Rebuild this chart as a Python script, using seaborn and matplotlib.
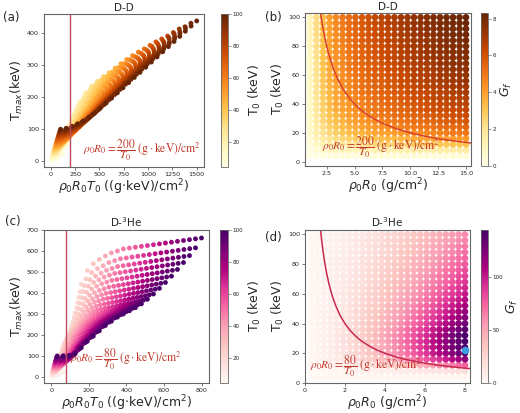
import numpy as np
import pandas as pd
import matplotlib
matplotlib.use("Agg")
import matplotlib.pyplot as plt
import seaborn as sns
from matplotlib.colors import Normalize
from matplotlib.cm import ScalarMappable

sns.set_style("ticks")
plt.rcParams['font.family'] = ['DejaVu Sans']

# ---------------- data ----------------
t0_grid = [4, 8, 12, 16, 20, 24, 28, 32, 36, 40, 44, 48, 52, 56, 60, 64, 68, 72, 76, 80, 84, 88, 92, 96, 100]
rho_dd = [1.0, 1.58, 2.17, 2.75, 3.33, 3.92, 4.5, 5.08, 5.67, 6.25, 6.83, 7.42, 8.0, 8.58, 9.17,
          9.75, 10.33, 10.92, 11.5, 12.08, 12.67, 13.25, 13.83, 14.42, 15.0]
rho_dhe = [0.32, 0.64, 0.96, 1.28, 1.6, 1.92, 2.24, 2.56, 2.88, 3.2, 3.52, 3.84, 4.16, 4.48, 4.8,
           5.12, 5.44, 5.76, 6.08, 6.4, 6.72, 7.04, 7.36, 7.68, 8.0]

# rows: T0 (t0_grid), columns: rho
gf_dd = [
 [0.0,0.1,0.1,0.2,0.2,0.2,0.2,0.2,0.2,0.2,0.3,0.3,0.3,0.3,0.3,0.3,0.3,0.3,0.3,0.3,0.3,0.3,0.3,0.3,0.3],
 [0.2,0.5,0.7,0.8,0.9,1.0,1.1,1.1,1.2,1.2,1.3,1.3,1.3,1.4,1.4,1.4,1.5,1.5,1.5,1.6,1.6,1.6,1.6,1.6,1.7],
 [0.4,0.9,1.3,1.5,1.7,1.9,2.0,2.1,2.2,2.3,2.4,2.5,2.6,2.6,2.7,2.7,2.8,2.9,2.9,2.9,3.0,3.0,3.1,3.1,3.2],
 [0.5,1.2,1.7,2.0,2.3,2.5,2.7,2.8,2.9,3.1,3.2,3.3,3.4,3.4,3.5,3.6,3.7,3.8,3.8,3.9,3.9,4.0,4.1,4.1,4.2],
 [0.6,1.4,2.0,2.4,2.7,3.0,3.2,3.4,3.5,3.7,3.8,3.9,4.0,4.1,4.2,4.3,4.4,4.5,4.6,4.7,4.7,4.8,4.9,4.9,5.0],
 [0.7,1.5,2.2,2.7,3.0,3.3,3.5,3.7,3.9,4.1,4.2,4.3,4.4,4.6,4.7,4.8,4.9,5.0,5.0,5.1,5.2,5.3,5.3,5.4,5.5],
 [0.7,1.6,2.4,2.9,3.2,3.5,3.8,4.0,4.2,4.4,4.5,4.7,4.8,4.9,5.0,5.1,5.2,5.3,5.4,5.5,5.6,5.7,5.8,5.8,5.9],
 [0.8,1.7,2.5,3.1,3.4,3.7,4.0,4.2,4.4,4.6,4.8,4.9,5.0,5.2,5.3,5.4,5.5,5.6,5.7,5.8,5.9,6.0,6.1,6.2,6.2],
 [0.8,1.8,2.6,3.2,3.6,3.9,4.1,4.4,4.6,4.8,5.0,5.1,5.2,5.4,5.5,5.6,5.8,5.9,6.0,6.1,6.2,6.2,6.3,6.4,6.5],
 [0.8,1.9,2.7,3.3,3.7,4.0,4.2,4.5,4.7,4.9,5.1,5.2,5.4,5.5,5.6,5.8,5.9,6.0,6.1,6.2,6.3,6.4,6.5,6.6,6.6],
 [0.8,1.9,2.7,3.3,3.7,4.1,4.4,4.6,4.8,5.0,5.2,5.4,5.5,5.6,5.8,5.9,6.1,6.2,6.3,6.4,6.5,6.5,6.6,6.7,6.8],
 [0.8,2.0,2.8,3.4,3.8,4.2,4.5,4.7,5.0,5.2,5.3,5.5,5.6,5.8,5.9,6.1,6.2,6.3,6.4,6.5,6.6,6.7,6.8,6.9,7.0],
 [0.9,2.0,2.9,3.5,3.9,4.3,4.6,4.9,5.1,5.3,5.5,5.6,5.8,5.9,6.1,6.2,6.4,6.5,6.6,6.7,6.8,6.9,7.0,7.1,7.1],
 [0.9,2.0,2.9,3.6,4.0,4.4,4.6,4.9,5.2,5.4,5.6,5.7,5.9,6.0,6.2,6.3,6.5,6.6,6.7,6.8,6.9,7.0,7.1,7.2,7.3],
 [0.9,2.1,3.0,3.6,4.1,4.4,4.7,5.0,5.2,5.5,5.7,5.8,6.0,6.1,6.3,6.4,6.6,6.7,6.8,6.9,7.0,7.1,7.2,7.3,7.4],
 [0.9,2.1,3.0,3.7,4.1,4.5,4.8,5.1,5.3,5.6,5.8,5.9,6.1,6.2,6.4,6.5,6.7,6.8,6.9,7.0,7.1,7.2,7.3,7.4,7.5],
 [0.9,2.1,3.1,3.7,4.2,4.6,4.9,5.2,5.4,5.7,5.8,6.0,6.2,6.3,6.5,6.6,6.8,6.9,7.0,7.1,7.3,7.4,7.5,7.5,7.6],
 [0.9,2.2,3.1,3.8,4.3,4.6,4.9,5.3,5.5,5.7,5.9,6.1,6.3,6.4,6.6,6.7,6.9,7.0,7.1,7.2,7.3,7.4,7.5,7.6,7.7],
 [0.9,2.2,3.1,3.8,4.3,4.7,5.0,5.3,5.5,5.8,6.0,6.2,6.3,6.5,6.6,6.8,6.9,7.1,7.2,7.3,7.4,7.5,7.6,7.7,7.8],
 [1.0,2.2,3.2,3.9,4.3,4.7,5.0,5.4,5.6,5.8,6.0,6.2,6.4,6.5,6.7,6.9,7.0,7.1,7.3,7.4,7.5,7.6,7.7,7.8,7.9],
 [1.0,2.2,3.2,3.9,4.4,4.8,5.1,5.4,5.7,5.9,6.1,6.3,6.5,6.6,6.8,6.9,7.1,7.2,7.3,7.5,7.6,7.7,7.8,7.9,8.0],
 [1.0,2.3,3.2,4.0,4.4,4.8,5.2,5.5,5.7,6.0,6.2,6.4,6.5,6.7,6.9,7.0,7.2,7.3,7.4,7.5,7.7,7.8,7.9,8.0,8.1],
 [1.0,2.3,3.3,4.0,4.5,4.9,5.2,5.5,5.8,6.0,6.2,6.4,6.6,6.8,6.9,7.1,7.2,7.4,7.5,7.6,7.7,7.8,7.9,8.0,8.1],
 [1.0,2.3,3.3,4.0,4.5,4.9,5.3,5.6,5.8,6.1,6.3,6.5,6.7,6.8,7.0,7.1,7.3,7.4,7.6,7.7,7.8,7.9,8.0,8.1,8.2],
 [1.0,2.3,3.3,4.1,4.6,5.0,5.3,5.6,5.9,6.1,6.4,6.6,6.7,6.9,7.1,7.2,7.4,7.5,7.6,7.8,7.9,8.0,8.1,8.2,8.3],
]

tmax_dd = [
 [4,4,4,4,4,4,5,5,5,5,5,5,5,6,6,6,6,6,6,7,7,7,7,7,7],
 [8,8,8,9,9,10,10,11,12,13,14,14,15,16,17,18,18,19,20,21,22,22,23,24,25],
 [12,12,13,15,16,18,20,22,24,27,29,31,34,36,39,41,43,46,48,51,53,55,58,60,63],
 [16,17,19,22,25,29,34,39,44,50,56,61,67,72,78,84,89,95,100,106,112,117,123,128,134],
 [20,21,24,28,33,38,45,52,60,68,75,83,91,99,107,115,122,130,138,146,154,162,169,177,185],
 [24,26,29,34,39,45,52,60,69,78,87,96,105,114,123,132,141,150,159,168,177,186,195,204,213],
 [28,30,33,38,44,51,59,68,77,87,97,107,116,126,136,146,155,165,175,185,195,204,214,224,234],
 [32,34,38,43,49,56,64,74,84,95,105,115,126,136,146,156,167,177,187,198,208,218,229,239,249],
 [36,38,42,47,54,61,70,80,91,101,112,123,134,145,155,166,177,188,199,209,220,231,242,253,263],
 [40,42,46,52,58,66,75,86,97,108,119,130,142,153,164,175,186,198,209,220,231,242,254,265,276],
 [44,46,51,56,63,71,81,91,103,115,126,138,150,162,173,185,197,208,220,232,243,255,267,278,290],
 [48,50,55,61,68,76,86,97,110,122,134,146,158,170,183,195,207,219,231,243,255,268,280,292,304],
 [52,54,59,65,72,81,91,103,116,128,141,153,166,178,191,204,216,229,241,254,266,279,291,304,317],
 [56,58,63,70,77,86,97,109,122,135,148,160,173,186,199,212,225,238,251,264,277,290,303,316,329],
 [60,62,67,74,82,91,102,114,127,141,154,167,180,194,207,220,233,247,260,273,287,300,313,326,340],
 [64,67,72,78,86,95,106,119,133,146,160,174,187,201,214,228,242,255,269,282,296,310,323,337,350],
 [68,71,76,83,91,100,112,125,138,152,166,180,194,208,222,236,250,264,278,292,306,319,333,347,361],
 [72,75,80,87,95,105,117,130,144,158,173,187,201,215,230,244,258,272,286,301,315,329,343,358,372],
 [76,79,84,91,100,109,121,135,149,164,178,193,207,222,236,251,265,280,294,309,323,338,352,367,381],
 [80,83,88,96,104,114,126,140,155,169,184,199,213,228,243,258,272,287,302,316,331,346,361,375,390],
 [84,87,92,100,108,119,131,145,160,175,190,205,220,235,250,265,280,296,311,326,341,356,371,386,401],
 [88,91,97,104,113,124,136,150,166,181,196,212,227,243,258,273,289,304,319,335,350,365,381,396,412],
 [92,95,101,108,117,128,141,155,171,186,202,217,233,248,264,279,295,310,326,341,357,372,388,403,419],
 [96,99,105,113,122,133,146,160,176,192,208,224,240,255,271,287,303,319,335,350,366,382,398,414,430],
 [100,103,109,117,126,137,150,165,181,197,213,229,245,261,277,293,309,325,341,357,373,389,405,421,437],
]

gf_dhe = [
 [0,0,0,0,0,0,0,0,0,1,1,1,1,1,1,1,1,1,1,1,2,2,2,2,2],
 [0,0,1,1,2,2,3,4,4,5,6,7,8,8,9,10,11,12,13,14,15,17,18,19,20],
 [1,2,3,5,7,9,11,14,16,19,22,25,28,31,35,38,42,46,50,54,58,62,66,71,75],
 [1,3,5,8,11,14,18,22,26,30,35,40,45,50,56,61,67,73,80,86,92,99,106,113,120],
 [1,3,6,9,12,16,20,25,30,35,40,46,52,58,64,71,77,84,91,99,106,114,122,130,138],
 [1,3,6,9,13,17,21,26,31,36,42,48,54,60,66,73,80,87,95,102,110,118,126,135,143],
 [1,3,6,9,13,17,21,26,31,37,42,48,54,61,67,74,81,89,96,104,112,120,128,136,145],
 [1,3,6,9,13,17,21,26,31,36,42,48,54,60,66,73,80,87,95,102,110,118,126,135,143],
 [1,3,6,9,12,16,20,25,30,35,40,46,52,58,64,71,77,84,91,99,106,114,122,130,138],
 [1,3,5,8,12,15,19,24,28,33,38,43,49,54,60,67,73,79,86,93,100,107,115,122,130],
 [1,3,5,8,11,14,18,22,27,31,36,41,46,52,57,63,69,75,82,88,95,102,109,116,123],
 [1,3,5,7,10,14,17,21,25,30,34,39,44,49,54,60,66,71,78,84,90,97,103,110,117],
 [1,3,5,7,10,13,16,20,24,28,32,37,42,47,52,57,62,68,74,79,85,92,98,104,111],
 [1,2,4,7,9,12,16,19,23,27,31,35,39,44,49,54,59,64,70,75,81,87,93,99,105],
 [1,2,4,6,9,12,15,18,22,25,29,33,38,42,47,51,56,61,66,72,77,83,88,94,100],
 [1,2,4,6,8,11,14,17,21,24,28,32,36,40,44,49,53,58,63,68,73,78,84,89,95],
 [1,2,4,6,8,11,13,16,19,23,26,30,34,38,42,46,50,55,60,64,69,74,79,85,90],
 [1,2,4,6,8,10,13,16,19,22,25,29,32,36,40,44,48,53,57,62,66,71,76,81,86],
 [1,2,3,5,7,10,12,15,18,21,24,27,31,34,38,42,46,50,54,59,63,68,72,77,82],
 [1,2,3,5,7,9,12,14,17,20,23,26,29,33,36,40,44,48,52,56,60,64,69,73,78],
 [1,2,3,5,7,9,11,13,16,19,22,25,28,31,34,38,42,45,49,53,57,61,65,70,74],
 [1,2,3,4,6,8,10,13,15,18,20,23,26,29,33,36,39,43,46,50,54,58,62,66,70],
 [1,2,3,4,6,8,10,12,14,17,20,22,25,28,31,34,38,41,44,48,52,55,59,63,67],
 [1,1,3,4,6,8,9,12,14,16,19,21,24,27,30,33,36,39,42,46,49,53,56,60,64],
 [0,1,3,4,5,7,9,11,13,15,18,20,23,26,28,31,34,37,40,44,47,50,54,57,61],
]

tmax_dhe = [
 [4,4,4,4,4,4,4,5,5,5,5,5,5,5,5,5,5,6,6,6,6,6,6,7,7],
 [8,8,8,8,9,10,11,12,12,13,14,14,14,15,15,16,17,18,19,19,20,21,22,23,25],
 [12,12,12,14,18,23,27,31,35,38,42,44,46,49,52,55,59,64,68,73,78,83,88,94,102],
 [16,17,18,22,36,51,64,76,89,99,109,116,124,131,140,151,164,177,191,206,222,239,255,274,297],
 [20,21,22,29,50,73,91,110,129,144,159,170,181,193,206,223,241,262,283,305,329,354,379,406,442],
 [24,25,27,34,58,84,106,127,149,166,183,196,209,222,237,256,278,301,325,351,378,407,435,467,507],
 [28,29,31,39,64,92,114,137,160,178,196,210,224,237,254,274,296,321,347,374,403,433,463,497,539],
 [32,33,35,43,70,98,121,145,168,187,206,220,234,248,265,286,309,335,361,389,419,450,481,516,560],
 [36,37,39,48,74,103,127,151,175,194,214,228,242,257,274,295,319,345,372,401,432,463,495,530,576],
 [40,41,43,52,79,109,133,158,182,202,221,236,251,265,283,305,329,356,383,412,444,476,508,545,591],
 [44,45,47,56,84,113,138,163,188,207,227,242,257,272,290,311,336,363,391,420,452,485,517,554,600],
 [48,49,51,60,88,118,143,168,193,213,233,248,263,278,296,318,343,370,398,428,460,493,526,563,610],
 [52,53,55,64,92,122,147,172,197,217,237,252,267,282,300,322,347,374,402,432,464,497,530,567,614],
 [56,57,59,68,96,126,151,176,201,221,241,256,271,286,304,326,351,378,406,436,468,501,534,571,618],
 [60,61,63,72,100,130,155,180,205,225,245,260,275,290,308,330,355,382,410,440,472,505,538,575,622],
 [64,65,67,76,104,134,159,184,209,229,249,264,279,294,312,334,359,386,414,444,476,509,542,579,626],
 [68,69,71,80,108,138,163,188,213,233,253,268,283,298,316,338,363,390,418,448,480,513,546,583,630],
 [72,73,75,84,112,142,167,192,217,237,257,272,287,302,320,342,367,394,422,452,484,517,550,587,634],
 [76,77,79,88,116,146,171,196,221,241,261,276,291,306,324,346,371,398,426,456,488,521,554,591,638],
 [80,81,83,92,120,150,175,200,225,245,265,280,295,310,328,350,375,402,430,460,492,525,558,595,642],
 [84,85,87,96,124,154,179,204,229,249,269,284,299,314,332,354,379,406,434,464,496,529,562,599,646],
 [88,89,91,100,128,158,183,208,233,253,273,288,303,318,336,358,383,410,438,468,500,533,566,603,650],
 [92,93,95,104,132,162,187,212,237,257,277,292,307,322,340,362,387,414,442,472,504,537,570,607,654],
 [96,97,99,108,136,166,191,216,241,261,281,296,311,326,344,366,391,418,446,476,508,541,574,611,658],
 [100,101,103,112,140,170,195,220,245,265,285,300,315,330,348,370,395,422,450,480,512,545,578,615,662],
]

dd_threshold = 200     # rho0R0*T0 (g keV/cm^2)
dhe_threshold = 80
highlight_rho = [8.0]
highlight_t0 = [22]

# ---------------- tables ----------------
def long_table(rho, gf, tmax):
    R, T = np.meshgrid(rho, t0_grid)
    df = pd.DataFrame({"rho": R.ravel(), "T0": T.ravel(),
                       "Gf": np.asarray(gf, float).ravel(),
                       "Tmax": np.asarray(tmax, float).ravel()})
    df["rhoT"] = df["rho"] * df["T0"]
    return df

dd = long_table(rho_dd, gf_dd, tmax_dd)
dhe = long_table(rho_dhe, gf_dhe, tmax_dhe)

# ---------------- figure ----------------
W, H = 520, 413
fig = plt.figure(figsize=(W / 100, H / 100), dpi=100)

def box(l, t, r, b):
    return [l / W, 1 - b / H, (r - l) / W, (b - t) / H]

ax_a = fig.add_axes(box(44, 14, 204, 167))
cax_a = fig.add_axes(box(221, 14, 228, 167))
ax_b = fig.add_axes(box(305, 13, 471, 166))
cax_b = fig.add_axes(box(481, 13, 488, 166))
ax_c = fig.add_axes(box(44, 230, 209, 383))
cax_c = fig.add_axes(box(220, 230, 228, 383))
ax_d = fig.add_axes(box(305, 230, 470, 383))
cax_d = fig.add_axes(box(481, 230, 488, 383))

edge = "#666666"
line_red = "#c04a60"
text_red = "#c0392b"
lab_fs = 9
tick_fs = 4.6
ann_fs = 8.3

def style(ax):
    for sp in ax.spines.values():
        sp.set_color(edge)
        sp.set_linewidth(0.8)
    ax.tick_params(labelsize=tick_fs, length=2.5, width=0.6, pad=1.2, color=edge)

def cbar(cax, cmap, vmin, vmax, label, ticks, pad):
    sm = ScalarMappable(norm=Normalize(vmin, vmax), cmap=cmap)
    cb = fig.colorbar(sm, cax=cax, ticks=ticks)
    cb.outline.set_edgecolor(edge)
    cb.outline.set_linewidth(0.6)
    cax.tick_params(labelsize=tick_fs - 0.5, length=2, width=0.5, pad=1.2, color=edge)
    cb.set_label(label, fontsize=lab_fs, labelpad=pad)

math_dd = r"$\rho_0R_0=\dfrac{200}{T_0}\ (\mathrm{g\cdot keV})/\mathrm{cm}^2$"
math_dhe = r"$\rho_0R_0=\dfrac{80}{T_0}\ (\mathrm{g\cdot keV})/\mathrm{cm}^2$"
xlab_rt = r"$\rho_0R_0T_0$ ((g$\cdot$keV)/cm$^2$)"
xlab_r = r"$\rho_0R_0$ (g/cm$^2$)"

# (a)
sns.scatterplot(data=dd, x="rhoT", y="Tmax", hue="T0", palette="YlOrBr", hue_norm=(4, 100),
                s=12, linewidth=0, legend=False, ax=ax_a)
ax_a.axvline(dd_threshold, color=line_red, lw=1.0)
ax_a.set_xticks([0, 250, 500, 750, 1000, 1250, 1500])
ax_a.set_yticks([0, 100, 200, 300, 400])
ax_a.set_xlabel(xlab_rt, fontsize=lab_fs, labelpad=0.5)
ax_a.set_ylabel(r"T$_{max}$(keV)", fontsize=lab_fs, labelpad=1)
ax_a.set_title("D-D", fontsize=7.5, pad=2)
ax_a.text(0.245, 0.11, math_dd, transform=ax_a.transAxes, fontsize=ann_fs, color=text_red,
          ha="left", va="center", math_fontfamily="stix")
style(ax_a)
cbar(cax_a, "YlOrBr", 4, 100, r"T$_0$ (keV)", [20, 40, 60, 80, 100], 3)

# (b)
sns.scatterplot(data=dd, x="rho", y="T0", hue="Gf", palette="YlOrBr", hue_norm=(0, 8.3),
                s=23, linewidth=0, legend=False, ax=ax_b)
curve_x = np.linspace(1.9, 15.5, 200)
ax_b.plot(curve_x, dd_threshold / curve_x, color="#d8412c", lw=1.1)
ax_b.set_xlim(0.55, 15.45)
ax_b.set_ylim(-3, 103)
ax_b.set_xticks([2.5, 5.0, 7.5, 10.0, 12.5, 15.0])
ax_b.set_yticks([0, 20, 40, 60, 80, 100])
ax_b.set_xlabel(xlab_r, fontsize=lab_fs, labelpad=0.5)
ax_b.set_ylabel(r"T$_0$ (keV)", fontsize=lab_fs, labelpad=1)
ax_b.set_title("D-D", fontsize=7.5, pad=2)
ax_b.text(0.105, 0.12, math_dd, transform=ax_b.transAxes, fontsize=ann_fs, color=text_red,
          ha="left", va="center", math_fontfamily="stix")
style(ax_b)
cbar(cax_b, "YlOrBr", 0, 8.3, r"$G_f$", [0, 2, 4, 6, 8], 2)

# (c)
sns.scatterplot(data=dhe, x="rhoT", y="Tmax", hue="T0", palette="RdPu", hue_norm=(4, 100),
                s=12, linewidth=0, legend=False, ax=ax_c)
ax_c.axvline(dhe_threshold, color=line_red, lw=1.0)
ax_c.set_xticks([0, 200, 400, 600, 800])
ax_c.set_yticks([0, 100, 200, 300, 400, 500, 600, 700])
ax_c.set_xlabel(xlab_rt, fontsize=lab_fs, labelpad=0.5)
ax_c.set_ylabel(r"T$_{max}$(keV)", fontsize=lab_fs, labelpad=1)
ax_c.set_title(r"D-$^3$He", fontsize=7.5, pad=2)
ax_c.text(0.16, 0.155, math_dhe, transform=ax_c.transAxes, fontsize=ann_fs, color=text_red,
          ha="left", va="center", math_fontfamily="stix")
style(ax_c)
cbar(cax_c, "RdPu", 4, 100, r"T$_0$ (keV)", [20, 40, 60, 80, 100], 3)

# (d)
sns.scatterplot(data=dhe, x="rho", y="T0", hue="Gf", palette="RdPu", hue_norm=(0, 145),
                s=23, linewidth=0, legend=False, ax=ax_d)
hl = pd.DataFrame({"rho": highlight_rho, "T0": highlight_t0})
sns.scatterplot(data=hl, x="rho", y="T0", color="#3d9be0", s=30, linewidth=0, legend=False, ax=ax_d)
curve_x2 = np.linspace(0.75, 8.3, 200)
ax_d.plot(curve_x2, dhe_threshold / curve_x2, color="#c8284f", lw=1.1)
ax_d.set_xlim(0, 8.25)
ax_d.set_ylim(0, 103)
ax_d.set_xticks([0, 2, 4, 6, 8])
ax_d.set_yticks([0, 20, 40, 60, 80, 100])
ax_d.set_xlabel(xlab_r, fontsize=lab_fs, labelpad=0.5)
ax_d.set_ylabel(r"T$_0$ (keV)", fontsize=lab_fs, labelpad=1)
ax_d.set_title(r"D-$^3$He", fontsize=7.5, pad=2)
ax_d.text(0.03, 0.11, math_dhe, transform=ax_d.transAxes, fontsize=ann_fs, color=text_red,
          ha="left", va="center", math_fontfamily="stix")
style(ax_d)
cbar(cax_d, "RdPu", 0, 145, r"$G_f$", [0, 50, 100], 1)

for lbl, x, y in [("(a)", 3, 17), ("(b)", 265, 17), ("(c)", 5, 221), ("(d)", 265, 237)]:
    fig.text(x / W, 1 - y / H, lbl, fontsize=8.5, ha="left", va="center")

fig.savefig("out.png", dpi=100)
